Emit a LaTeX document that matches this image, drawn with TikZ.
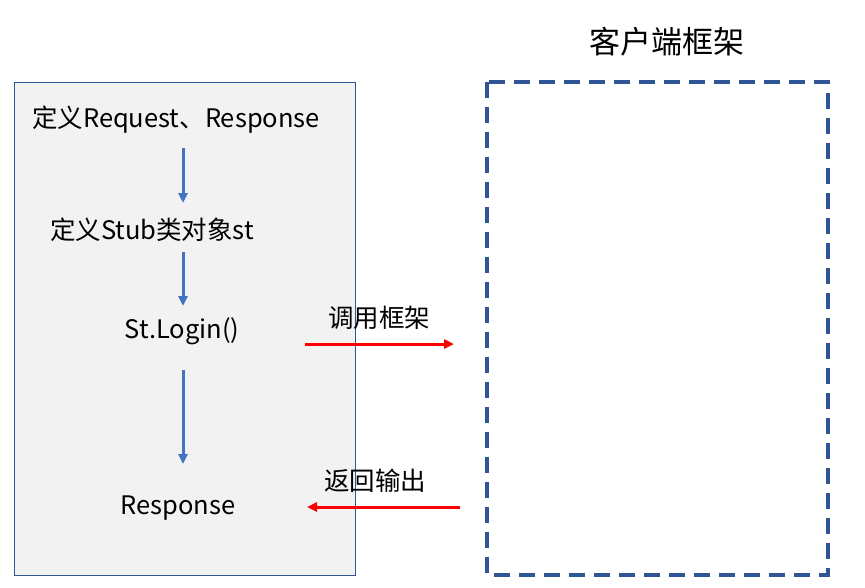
\documentclass[tikz,border=0pt]{standalone}
\usepackage{fontspec}
\setmainfont{Noto Sans CJK SC}
\usetikzlibrary{arrows.meta}
\definecolor{dblue}{HTML}{2F5597}
\definecolor{ablue}{HTML}{4472C4}
\begin{document}
\begin{tikzpicture}[x=1pt,y=-1pt,
  txt/.style={font=\fontsize{25.5}{28}\selectfont, inner sep=0pt},
  barr/.style={ablue, line width=3pt, -{Triangle[length=10pt,width=9pt]}},
  rarr/.style={red, line width=3pt, -{Triangle[length=10pt,width=9pt]}}]
\useasboundingbox (0,0) rectangle (865,587);
\draw[dblue, fill={rgb,255:red,242;green,242;blue,242}, line width=1pt] (14,82) rectangle (355,575);
\draw[dblue, line width=4pt, dash pattern=on 16pt off 9pt] (487,82) rectangle (828,575);
\node[txt, font=\fontsize{31}{34}\selectfont] (title) at (667,42) {客户端框架};
\node[txt] (a) at (176,120) {定义Request、Response};
\node[txt] (b) at (152,230) {定义Stub类对象st};
\node[txt] (c) at (182,331) {St.Login()};
\node[txt] (d) at (178,508) {Response};
\coordinate (a1) at (183,148); \coordinate (a2) at (183,203);
\coordinate (b1) at (183,252); \coordinate (b2) at (183,306);
\coordinate (c1) at (183,370); \coordinate (c2) at (183,464);
\draw[barr] (a1) -- (a2);
\draw[barr] (b1) -- (b2);
\draw[barr] (c1) -- (c2);
\coordinate (r1) at (305,344); \coordinate (r2) at (454,344);
\coordinate (s1) at (460,507); \coordinate (s2) at (307,507);
\draw[rarr] (r1) -- (r2);
\draw[rarr] (s1) -- (s2);
\node[txt] (l1) at (379,318) {调用框架};
\node[txt] (l2) at (375,481) {返回输出};
\end{tikzpicture}
\end{document}
